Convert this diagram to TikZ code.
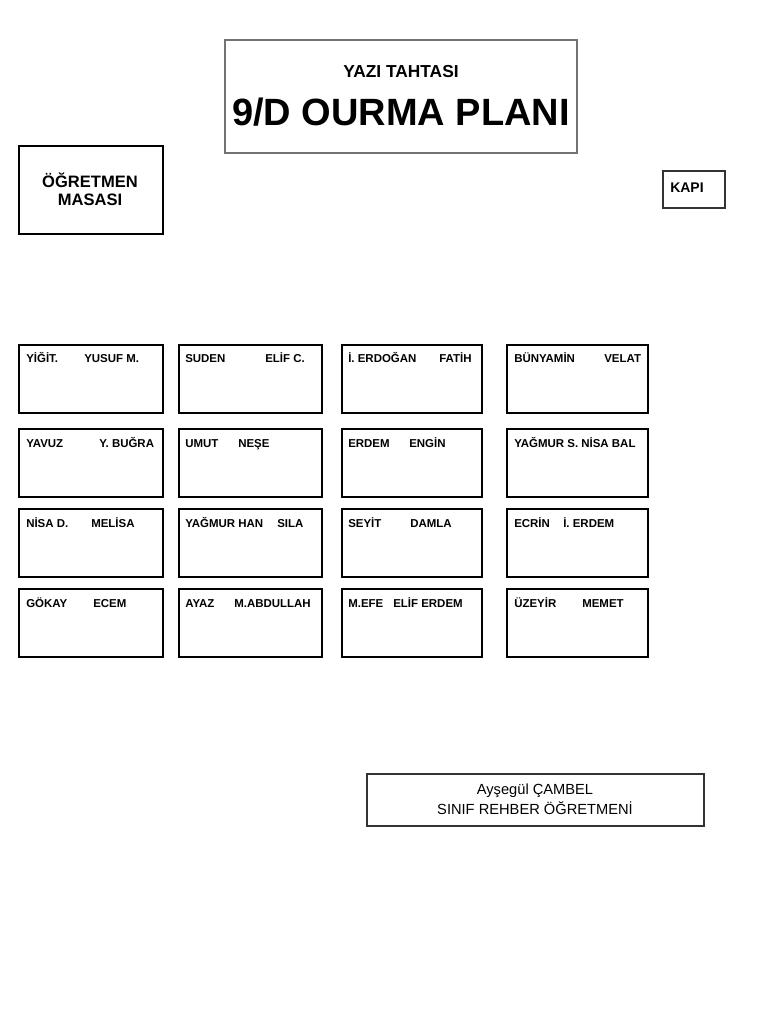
\documentclass[tikz,border=0pt]{standalone}
\usepackage{fontspec}
\setmainfont{Liberation Sans}
\begin{document}
\begin{tikzpicture}[x=0.75pt,y=-0.75pt,
  thinbox/.style={draw=black!80,line width=0.8pt,inner sep=0pt},
  thickbox/.style={draw=black,line width=2.1pt,inner sep=0pt},
  desk/.style={thickbox,minimum height=51pt},
  nm/.style={anchor=base west,inner sep=0pt,font=\fontsize{8.6pt}{10pt}\selectfont\bfseries},
  ctr/.style={anchor=base,inner sep=0pt}]
\useasboundingbox[fill=white] (0,0) rectangle (768,1024);

% Board
\node[thinbox,draw=black!55,minimum width=264pt,minimum height=84.75pt] (board) at (401,96.5) {};
\node[ctr,font=\fontsize{13pt}{15pt}\selectfont\bfseries] (boardt1) at (401,78) {YAZI TAHTASI};
\node[ctr,font=\fontsize{28.5pt}{32pt}\selectfont\bfseries] (boardt2) at (401,125) {9/D OURMA PLANI};

% Teacher desk
\node[thickbox,minimum width=108pt,minimum height=66pt] (teacher) at (91,190) {};
\node[ctr,font=\fontsize{12.4pt}{14pt}\selectfont\bfseries] (teachert1) at (90,187) {ÖĞRETMEN};
\node[ctr,font=\fontsize{12.4pt}{14pt}\selectfont\bfseries] (teachert2) at (90,205) {MASASI};

% Door
\node[thinbox,minimum width=46.5pt,minimum height=27.75pt] (door) at (694,189.5) {};
\node[anchor=base west,inner sep=0pt,font=\fontsize{10.5pt}{12pt}\selectfont\bfseries] (doort) at (670,192) {KAPI};

% Desks
\foreach \c/\cx/\w in {1/91/108pt,2/250.5/107.25pt,3/412/105pt,4/577.5/105.75pt}{
  \foreach \r/\cy in {1/379,2/463,3/543,4/623}{
    \node[desk,minimum width=\w] (d\r\c) at (\cx,\cy) {};
  }
}

% Row 1
\node[nm] (n11a) at (26,362) {YİĞİT.};
\node[nm] (n11b) at (84,362) {YUSUF M.};
\node[nm] (n12a) at (185,362) {SUDEN};
\node[nm] (n12b) at (265,362) {ELİF C.};
\node[nm] (n13a) at (348,362) {İ. ERDOĞAN};
\node[nm] (n13b) at (439,362) {FATİH};
\node[nm] (n14a) at (514,362) {BÜNYAMİN};
\node[nm] (n14b) at (604,362) {VELAT};
% Row 2
\node[nm] (n21a) at (26,447) {YAVUZ};
\node[nm] (n21b) at (99,447) {Y. BUĞRA};
\node[nm] (n22a) at (185,447) {UMUT};
\node[nm] (n22b) at (238,447) {NEŞE};
\node[nm] (n23a) at (348,447) {ERDEM};
\node[nm] (n23b) at (409,447) {ENGİN};
\node[nm] (n24a) at (514,447) {YAĞMUR S. NİSA BAL};
% Row 3
\node[nm] (n31a) at (26,527) {NİSA D.};
\node[nm] (n31b) at (91,527) {MELİSA};
\node[nm] (n32a) at (185,527) {YAĞMUR HAN};
\node[nm] (n32b) at (277,527) {SILA};
\node[nm] (n33a) at (348,527) {SEYİT};
\node[nm] (n33b) at (410,527) {DAMLA};
\node[nm] (n34a) at (514,527) {ECRİN};
\node[nm] (n34b) at (563,527) {İ. ERDEM};
% Row 4
\node[nm] (n41a) at (26,607) {GÖKAY};
\node[nm] (n41b) at (93,607) {ECEM};
\node[nm] (n42a) at (185,607) {AYAZ};
\node[nm] (n42b) at (234,607) {M.ABDULLAH};
\node[nm] (n43a) at (348,607) {M.EFE};
\node[nm] (n43b) at (393,607) {ELİF ERDEM};
\node[nm] (n44a) at (514,607) {ÜZEYİR};
\node[nm] (n44b) at (582,607) {MEMET};

% Signature box
\node[thinbox,minimum width=252.75pt,minimum height=39pt] (sig) at (535.5,800) {};
\node[ctr,font=\fontsize{11pt}{13pt}\selectfont] (sigt1) at (535,794) {Ayşegül ÇAMBEL};
\node[ctr,font=\fontsize{11pt}{13pt}\selectfont] (sigt2) at (535,814) {SINIF REHBER ÖĞRETMENİ};
\end{tikzpicture}
\end{document}
